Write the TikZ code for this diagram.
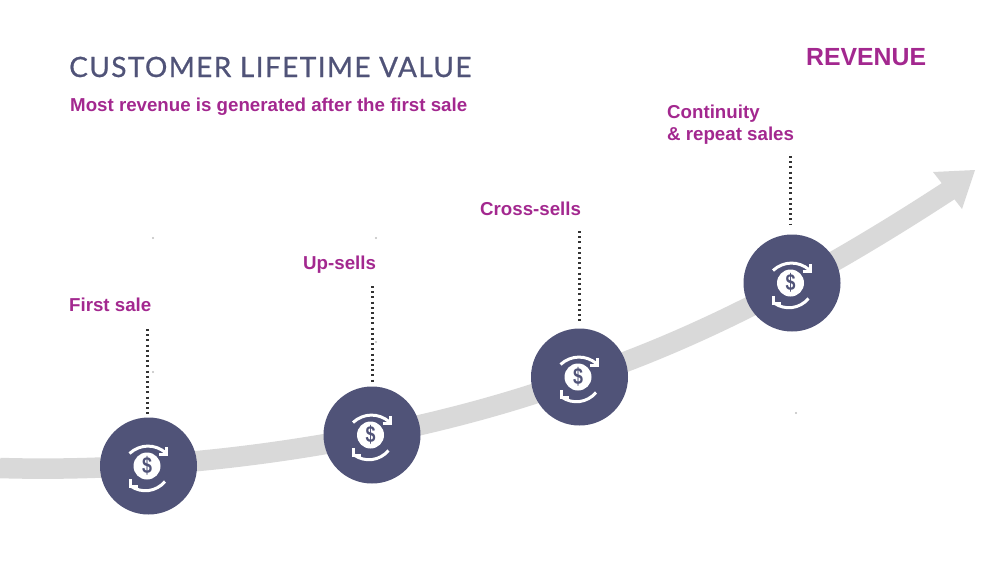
\documentclass[tikz,border=0pt]{standalone}
\usepackage{xcolor}
\usepackage{fontspec}
\setmainfont{Liberation Sans}
\newfontfamily\titlefont[LetterSpace=5,FakeBold=0.7]{Lato}
\usetikzlibrary{arrows.meta,positioning}

\definecolor{clvnavy}{HTML}{505378}
\definecolor{clvpurple}{HTML}{A3288F}
\definecolor{clvgray}{HTML}{D9D9D9}

\tikzset{
    stage/.style={circle, fill=clvnavy, minimum size=97pt, inner sep=0pt},
    stagelabel/.style={anchor=base west, text=clvpurple, font=\fontsize{18.7}{22}\selectfont\bfseries, align=left, inner sep=0pt},
    dotline/.style={black!80, line width=3pt, dash pattern=on 2pt off 3.2pt},
    hook/.style={white, line width=3pt, miter limit=10},
    pics/coinicon/.style={code={
        \fill[white] (-1.5,0) circle (13.5pt);
        \node[text=clvnavy, font=\fontsize{21}{21}\selectfont\bfseries, inner sep=0pt] at (-1.5,0) {\scalebox{0.85}[1.1]{\$}};
        % top arrow
        \draw[hook] (-19,-12.5) to[bend left=42] (17.5,-13);
        \draw[hook] (10.5,-12) -- (18,-12) -- (18,-19.5);
        % bottom arrow
        \draw[hook] (16.5,15.5) to[bend left=42] (-18,20);
        \draw[hook] (-11,20.5) -- (-18.5,20.5) -- (-18.5,13);
    }}
}

\begin{document}
\begin{tikzpicture}[x=1pt,y=-1pt]
    \useasboundingbox (0,0) rectangle (1000,563);

    % Revenue curve
    \draw[clvgray, line width=20.5pt] (0,468) .. controls (200,474) and (420,437) .. (580,378)
        .. controls (700,338) and (820,275) .. (950,190);
    \fill[clvgray] (975,170) -- (933,172) -- (962,209) -- cycle;

    % Faint specks
    \foreach \px/\py in {153/238,376/238,153/372,376/342,796/413} {
        \fill[black!25] (\px,\py) circle (1.2pt);
    }

    % Stages
    \node[stage] (first) at (148.5,466) {};
    \node[stage] (up) at (372,435) {};
    \node[stage] (cross) at (579.5,377) {};
    \node[stage] (repeat) at (792,283) {};
    \foreach \n in {first,up,cross,repeat} {
        \pic at (\n.center) {coinicon};
    }

    % Dotted leaders
    \coordinate (firsttop) at (147,329);
    \coordinate (uptop) at (372,286);
    \coordinate (crosstop) at (579,231);
    \coordinate (repeattop) at (790,156);
    \draw[dotline, shorten >=2.5pt] (firsttop) -- (firsttop |- first.north);
    \draw[dotline, shorten >=4.5pt] (uptop) -- (uptop |- up.north);
    \draw[dotline, shorten >=5pt] (crosstop) -- (crosstop |- cross.north);
    \draw[dotline, shorten >=10.5pt] (repeattop) -- (repeattop |- repeat.north);

    % Labels
    \node[stagelabel] (firstlabel) at (69,311) {First sale};
    \node[stagelabel] (uplabel) at (303,269) {Up-sells};
    \node[stagelabel] (crosslabel) at (480,215) {Cross-sells};
    \node[stagelabel] (repeatlabel) at (667,140.5) {Continuity\\\& repeat sales};

    % Headings
    \node[anchor=base west, inner sep=0pt, text=clvnavy, font=\fontsize{28}{28}\selectfont\titlefont] (title) at (69,77) {CUSTOMER LIFETIME VALUE};
    \node[stagelabel] (subtitle) at (70,111) {Most revenue is generated after the first sale};
    \node[stagelabel, font=\fontsize{24.8}{25}\selectfont\bfseries] (revenue) at (806,65.5) {REVENUE};
\end{tikzpicture}
\end{document}
